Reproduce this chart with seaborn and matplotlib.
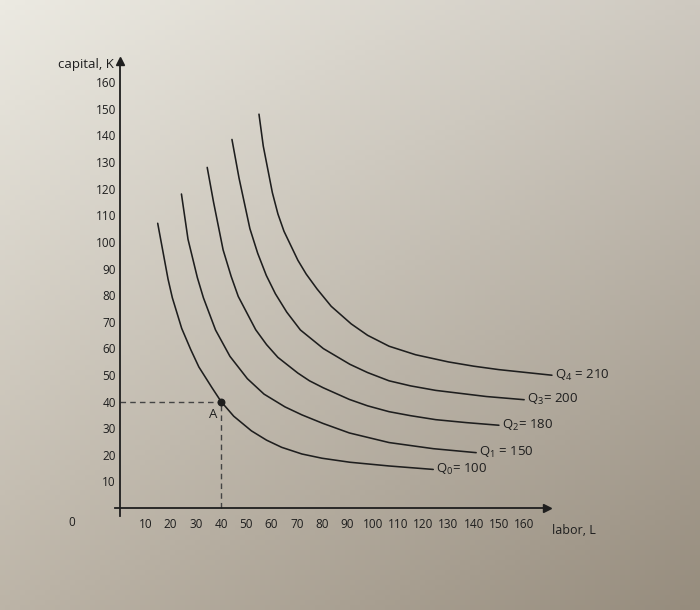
import numpy as np
import seaborn as sns
import matplotlib.pyplot as plt

# isoquants (labor L, capital K)
q0_L = [14.9, 19, 20.7, 24.4, 28, 31.2, 36.4, 40, 45, 52, 58, 64, 72, 80, 91, 106.5, 124]
q0_K = [107, 86, 79, 67.5, 59.5, 53, 45.2, 40, 34.5, 29, 25.5, 22.8, 20.3, 18.7, 17.2, 15.8, 14.5]
q1_L = [24.3, 26.9, 30.6, 33, 37.8, 43.5, 50.4, 57, 65.3, 72, 80.3, 90.8, 106.5, 124, 141]
q1_K = [118, 101, 86.6, 79, 66.9, 57, 48.6, 42.8, 38, 35, 31.8, 28.2, 24.6, 22.3, 20.8]
q2_L = [34.5, 37, 40.8, 44, 46.8, 53.7, 58, 62.5, 70.4, 75, 80.4, 90.8, 98, 106.5, 115, 125, 137, 150]
q2_K = [128, 115, 97, 87, 79.5, 67, 61.4, 56.6, 50.7, 47.8, 45.2, 40.8, 38.4, 36.2, 34.7, 33.2, 32.1, 31.1]
q3_L = [44.3, 47.1, 51.4, 54.5, 57.9, 61.5, 66, 71.4, 80.5, 91, 98, 106.5, 115, 125, 145, 160]
q3_K = [138.5, 124, 105, 95.7, 87.4, 80.5, 73.6, 66.9, 59.9, 54, 50.9, 47.8, 45.9, 44.2, 41.9, 40.7]
q4_L = [55, 56.7, 60.3, 62.5, 64.9, 70.4, 73.7, 78, 83.6, 91.5, 98, 106.5, 117, 130, 140, 150, 171]
q4_K = [148, 136, 118.5, 110.5, 104, 93.1, 87.9, 82.3, 75.8, 69.2, 64.9, 60.8, 57.6, 54.9, 53.3, 52, 49.9]

curves = [(q0_L, q0_K), (q1_L, q1_K), (q2_L, q2_K), (q3_L, q3_K), (q4_L, q4_K)]
labels = ["Q$_{\\mathrm{0}}$= 100", "Q$_{\\mathrm{1}}$ = 150", "Q$_{\\mathrm{2}}$= 180",
          "Q$_{\\mathrm{3}}$= 200", "Q$_{\\mathrm{4}}$ = 210"]

point_A = (40, 40)
ticks = list(range(10, 161, 10))

sns.set_style("white")
plt.rcParams['font.family'] = ['Open Sans', 'DejaVu Sans']
plt.rcParams['mathtext.fontset'] = 'custom'
plt.rcParams['mathtext.rm'] = 'Open Sans'
plt.rcParams['mathtext.it'] = 'Open Sans:italic'

ink = "#1e1e1e"
fig = plt.figure(figsize=(7, 6.1), dpi=100)

# photo-like paper background
bg = fig.add_axes([0, 0, 1, 1], zorder=-10)
tl = np.array([236, 234, 226]) / 255
tr = np.array([206, 201, 192]) / 255
bl = np.array([188, 180, 167]) / 255
br = np.array([150, 140, 125]) / 255
u = np.linspace(0, 1, 140)[None, :, None]
v = np.linspace(0, 1, 122)[:, None, None]
grad = (1 - v) * ((1 - u) * tl + u * tr) + v * ((1 - u) * bl + u * br)
bg.imshow(grad, aspect='auto', extent=[0, 1, 0, 1])
bg.axis('off')

ax = fig.add_axes([0.1643, 0.1541, 0.617, 0.746])
ax.patch.set_alpha(0)

for (L, K), lab in zip(curves, labels):
    sns.lineplot(x=L, y=K, ax=ax, color=ink, lw=1.15, sort=False, estimator=None)
    ax.text(L[-1] + 1.2, K[-1], lab, fontsize=9.5, color=ink, va='center', ha='left')
for ln in ax.lines:
    ln.set_clip_on(False)
    ln.set_solid_joinstyle('round')

# point A with dashed guides
ax.plot([0, point_A[0]], [point_A[1], point_A[1]], ls=(0, (4, 3)), color="#444444", lw=1)
ax.plot([point_A[0], point_A[0]], [0, point_A[1]], ls=(0, (4, 3)), color="#444444", lw=1)
ax.scatter([point_A[0]], [point_A[1]], s=22, color=ink, zorder=5)
ax.text(point_A[0] - 1.5, point_A[1] - 5, "A", fontsize=9.5, color=ink, ha='right', va='center')

ax.set_xlim(-2, 169)
ax.set_ylim(-3, 168)
for s in ['top', 'right']:
    ax.spines[s].set_visible(False)
for s in ['left', 'bottom']:
    ax.spines[s].set_position(('data', 0))
    ax.spines[s].set_color(ink)
    ax.spines[s].set_linewidth(1.3)
ax.plot(1, 0, ">", color=ink, ms=6, transform=ax.get_yaxis_transform(), clip_on=False)
ax.plot(0, 1, "^", color=ink, ms=6, transform=ax.get_xaxis_transform(), clip_on=False)

ax.set_xticks(ticks)
ax.set_yticks(ticks)
ax.tick_params(axis='both', direction='inout', length=8, width=1, color=ink,
               labelsize=8.5, labelcolor=ink)
ax.tick_params(axis='y', pad=-1)
ax.tick_params(axis='x', pad=3)

ax.text(-19, -5.5, "0", fontsize=8.5, color=ink, ha='center', va='center', clip_on=False)
ax.text(-2.5, 166.5, "capital, K", fontsize=9.5, color=ink, ha='right', va='center', clip_on=False)
ax.text(171, -8.5, "labor, L", fontsize=9, color=ink, ha='left', va='center', clip_on=False)

fig.savefig("out.png", dpi=100)
